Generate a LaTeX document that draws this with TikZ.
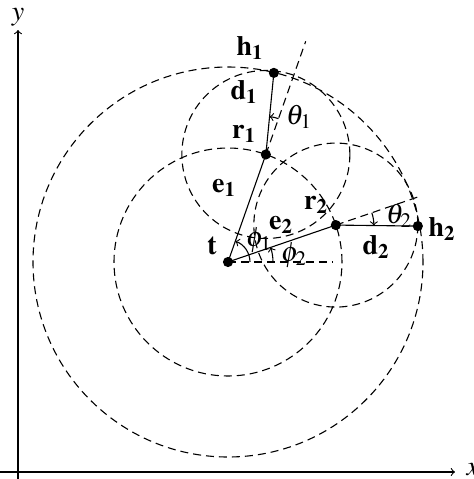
\documentclass[tikz,border=0pt]{standalone}
\usepackage{mathptmx}
\usetikzlibrary{calc}
\begin{document}
\begin{tikzpicture}[x=0.5pt,y=0.5pt,line width=0.55pt,font=\fontsize{14}{16}\selectfont]
\tikzset{dsh/.style={dash pattern=on 4pt off 2.5pt},dot/.style={circle,fill,inner sep=1.8pt}}
\useasboundingbox (-228,-217) rectangle (246,262);
\draw[->] (-228,-210)--(227,-210) coordinate (xe);
\draw[->] (-210,-217)--(-210,232) coordinate (ye);
\node (xl) at (245,-208) {$x$};
\node (yl) at (-210,245) {$y$};
% points
\coordinate (t) at (0,0);
\coordinate (r1) at (70.6:114);
\coordinate (h1) at ($(r1)+(84.4:82)$);
\coordinate (r2) at (18.9:114);
\coordinate (h2) at ($(r2)+(-0.7:82)$);
% circles
\draw[dsh] (t) circle (114);
\draw[dsh] (t) circle (195);
\draw[dsh] (r1) circle (84);
\draw[dsh] (r2) circle (82);
\draw[dsh] (r1)--(70.6:234);
\draw[dsh] (r2)--(18.9:205);
\draw[dsh] (t)--(105,0);
% arms
\draw (t)--(r1)--(h1);
\draw (t)--(r2)--(h2);
\node[dot] (nt) at (t) {};
\node[dot] (nr1) at (r1) {};
\node[dot] (nh1) at (h1) {};
\node[dot] (nr2) at (r2) {};
\node[dot] (nh2) at (h2) {};
% angles
\draw[->] ([shift=(0:22)]t) arc (0:70.6:22);
\draw[->] ([shift=(0:45)]t) arc (0:18.9:45);
\draw[->] ([shift=(70.6:38)]r1) arc (70.6:84.4:38);
\draw[->] ([shift=(18.9:38)]r2) arc (18.9:-0.7:38);
% labels
\node (lh1) at (22,214) {$\mathbf{h_1}$};
\node (ld1) at (16,170) {$\mathbf{d_1}$};
\node (lr1) at (16,128) {$\mathbf{r_1}$};
\node (le1) at (-4,74) {$\mathbf{e_1}$};
\node (lt) at (-16,16) {$\mathbf{t}$};
\node (le2) at (53,37) {$\mathbf{e_2}$};
\node (lr2) at (88,57) {$\mathbf{r_2}$};
\node (lp1) at (31,22) {$\phi_1$};
\node (lp2) at (66,7) {$\phi_2$};
\node (lq1) at (71,145) {$\theta_1$};
\node (lq2) at (171,46) {$\theta_2$};
\node (ld2) at (148,15) {$\mathbf{d_2}$};
\node (lh2) at (214,33) {$\mathbf{h_2}$};
\end{tikzpicture}
\end{document}
